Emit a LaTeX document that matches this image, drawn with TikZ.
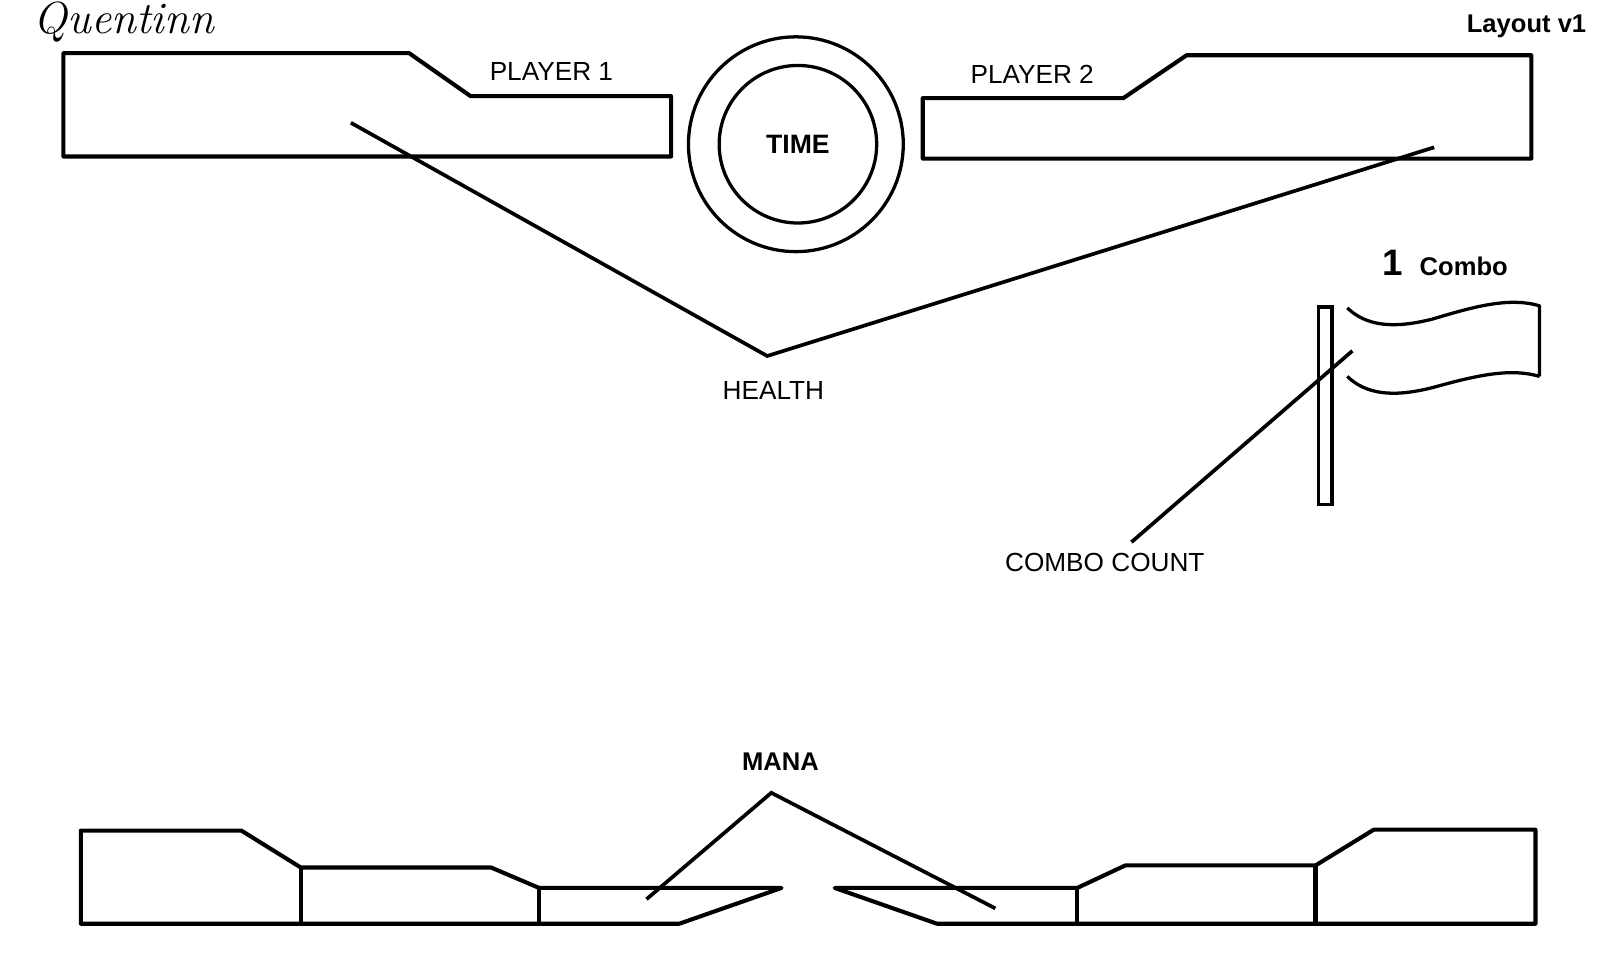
\documentclass[tikz,border=0pt]{standalone}
\usepackage{fontspec}
\setsansfont{Liberation Sans}
\usetikzlibrary{positioning}

\begin{document}
\begin{tikzpicture}[x=0.5pt, y=-0.5pt,
    bar/.style={line width=2pt, line join=round},
    link/.style={line width=1.8pt},
    lbl/.style={font=\sffamily\fontsize{12.8}{14}\selectfont, inner sep=1pt},
    blbl/.style={font=\sffamily\bfseries\fontsize{12.5}{14}\selectfont, inner sep=1pt}]
    \useasboundingbox (0,0) rectangle (1568,931);

    \node[font=\rmfamily\itshape\fontsize{22}{24}\selectfont, inner sep=0pt] (sign) at (121,22) {Quentinn};
    \node[blbl, anchor=north east] (version) at (1553,12) {Layout v1};

    \draw[bar] (62,52) -- (400,52) -- (460,94) -- (656,94) -- (656,153) -- (62,153) -- cycle;
    \node[lbl] (p1) at (539,70) {PLAYER 1};

    \draw[bar] (902,96) -- (1098,96) -- (1160,54) -- (1497,54) -- (1497,155) -- (902,155) -- cycle;
    \node[lbl] (p2) at (1009,73) {PLAYER 2};

    \node[draw, circle, line width=1.6pt, minimum size=105pt, inner sep=0pt] (clock) at (778,141) {};
    \node[draw, circle, line width=1.6pt, minimum size=77pt, font=\sffamily\bfseries\fontsize{13}{15}\selectfont] (time) at (780,141) {TIME};

    \node[lbl] (health) at (756,382) {HEALTH};
    \coordinate (hp1) at (343,120);
    \coordinate (hp2) at (1402,144);
    \coordinate (hv) at (750,348);
    \draw[link] (hp1) -- (hv) -- (hp2);

    \node[font=\sffamily\bfseries\fontsize{18}{20}\selectfont, inner sep=1pt, anchor=base] (cnum) at (1361,269) {1};
    \node[blbl, base right=6pt of cnum] (cword) {Combo};

    \draw[line width=1.6pt] (1289,300) rectangle (1302,493);
    \draw[line width=1.6pt, line join=round] (1317,301) .. controls (1335,318) and (1360,322) .. (1400,312)
        .. controls (1440,300) and (1475,290) .. (1505,299) -- (1505,368);
    \draw[line width=1.6pt] (1317,368) .. controls (1335,385) and (1360,389) .. (1400,379)
        .. controls (1440,368) and (1475,359) .. (1505,368);

    \node[lbl] (ccount) at (1080,550) {COMBO COUNT};
    \coordinate (cp) at (1322,343);
    \coordinate (cv) at (1106,530);
    \draw[link] (cp) -- (cv);

    \draw[bar] (79,812) -- (236,812) -- (294,848) -- (480,848) -- (527,868) -- (764,868) -- (664,903) -- (79,903) -- cycle;
    \draw[bar] (294,848) -- (294,903) (527,868) -- (527,903);
    \draw[bar] (816,868) -- (1053,868) -- (1100,846) -- (1286,846) -- (1343,811) -- (1501,811) -- (1501,903) -- (916,903) -- cycle;
    \draw[bar] (1053,868) -- (1053,903) (1286,846) -- (1286,903);

    \node[blbl] (mana) at (763,745) {MANA};
    \coordinate (mv) at (754,775);
    \coordinate (ml) at (632,879);
    \coordinate (mr) at (973,888);
    \draw[link] (ml) -- (mv) -- (mr);
\end{tikzpicture}
\end{document}
